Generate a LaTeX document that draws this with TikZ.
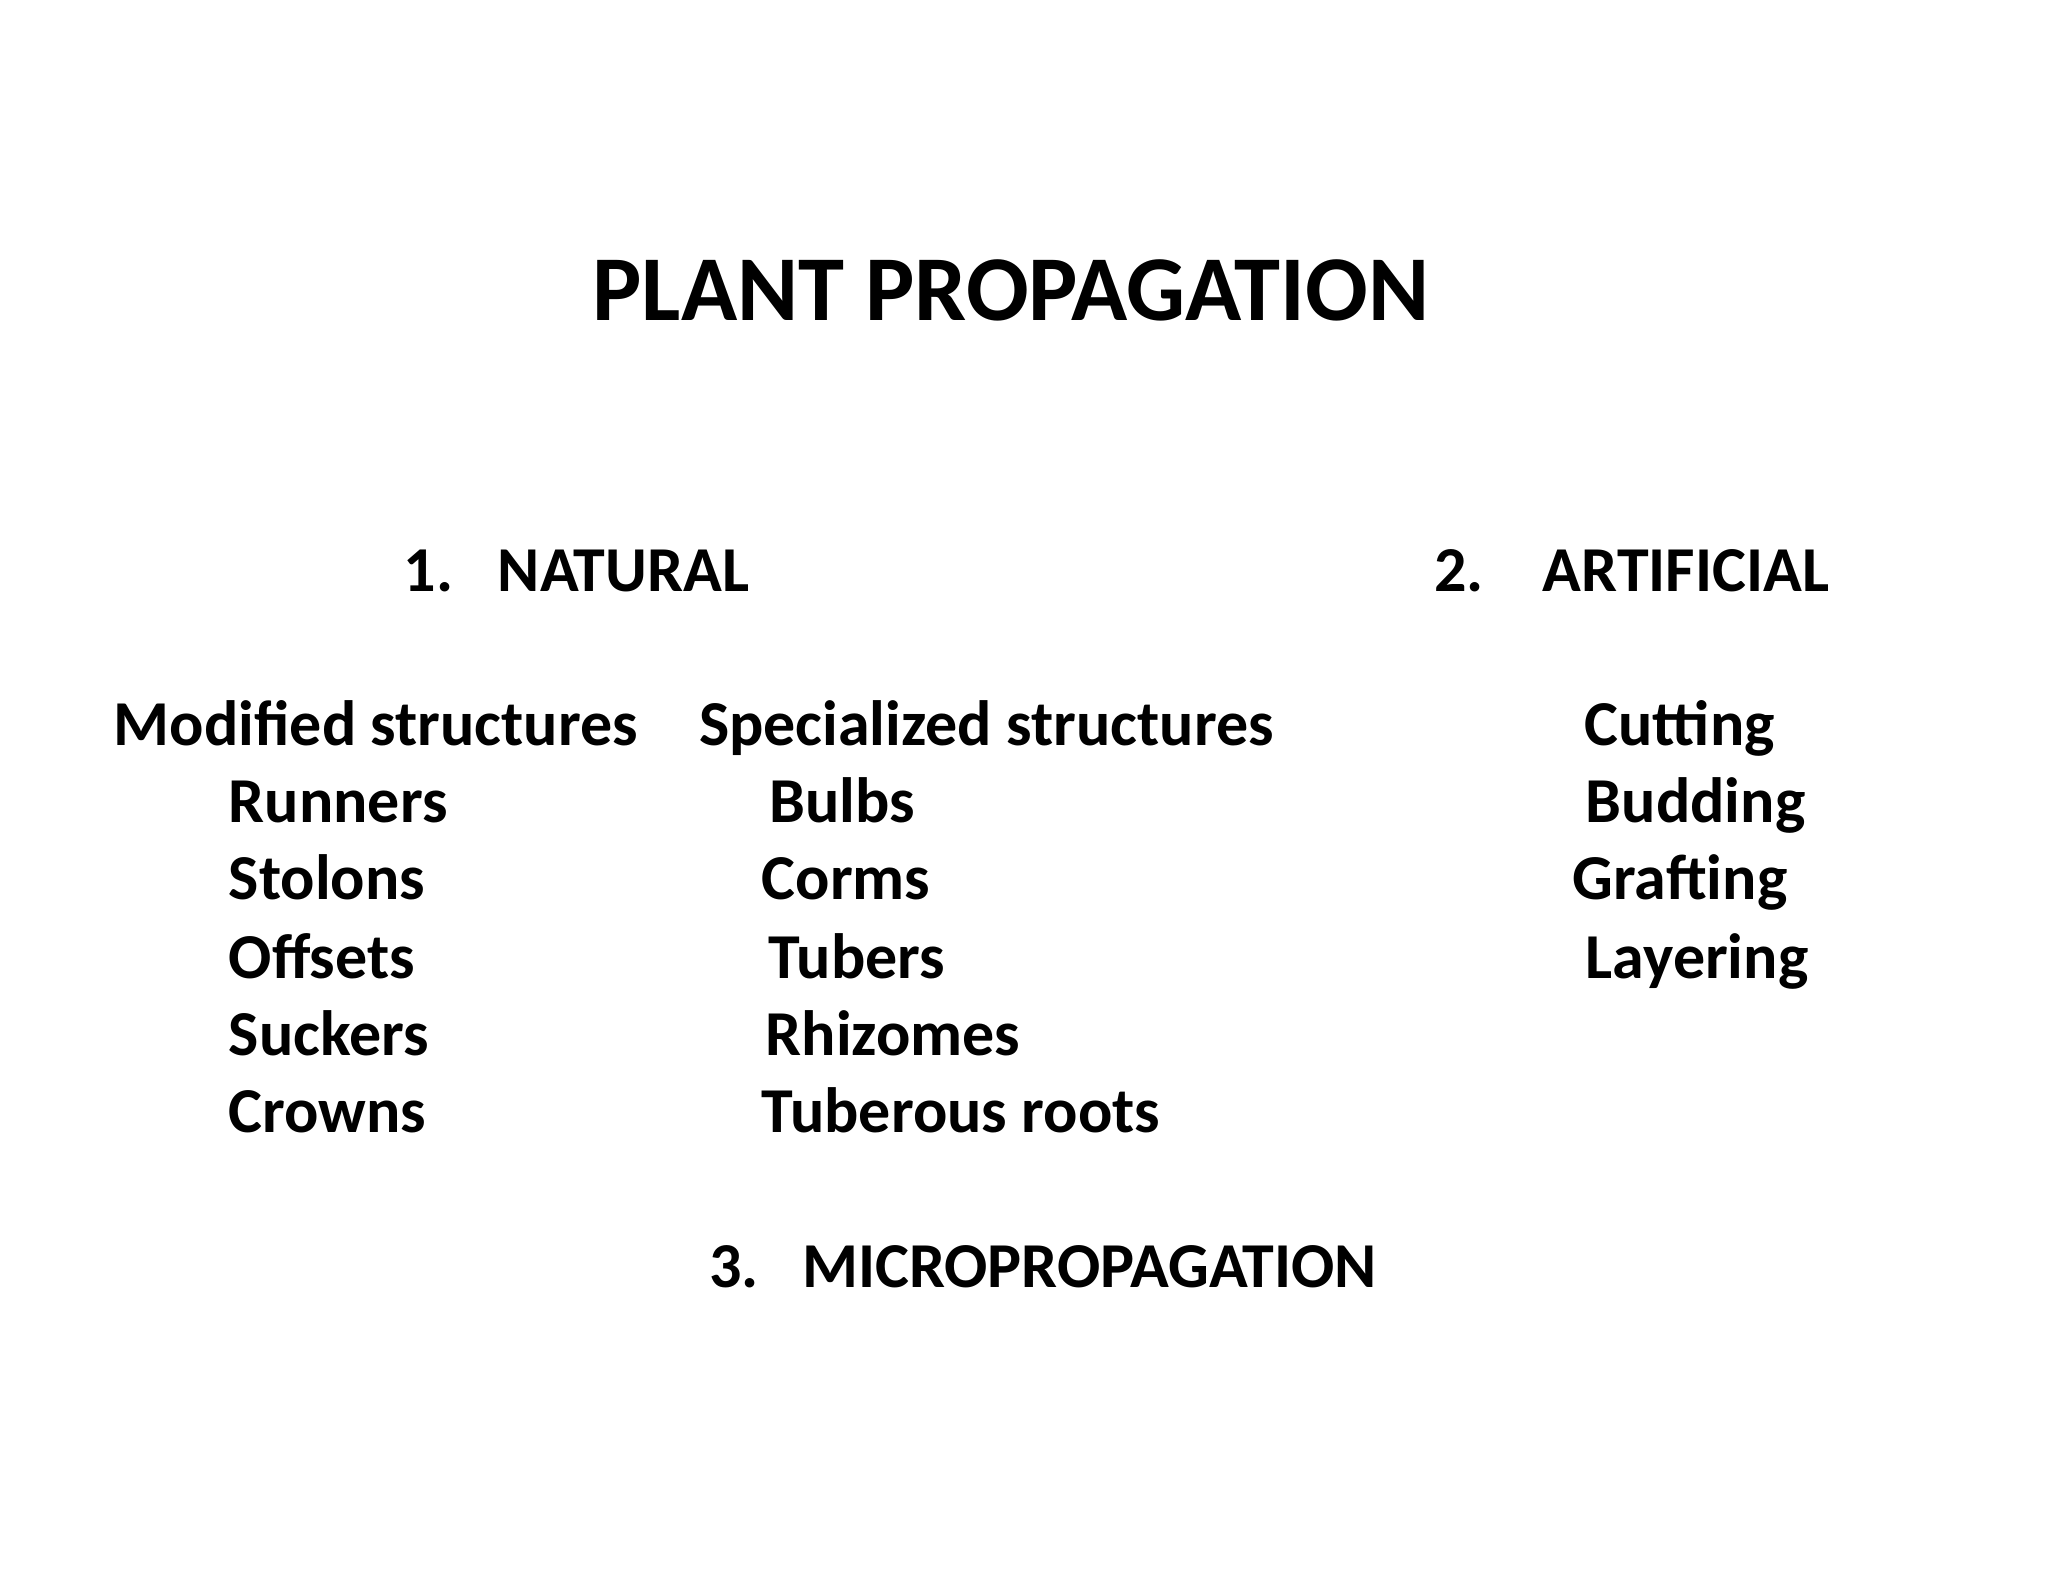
\documentclass[tikz,border=0pt]{standalone}
\usepackage{fontspec}
\setmainfont{Carlito}
\begin{document}
\begin{tikzpicture}[x=1pt,y=-1pt,
  it/.style={anchor=base west,inner sep=0pt,font=\bfseries\fontsize{49}{60}\selectfont},
  ttl/.style={anchor=base,inner sep=0pt,font=\bfseries\fontsize{71}{85}\selectfont}]
\useasboundingbox[fill=white] (0,0) rectangle (1568,1211);
\node[ttl] (title) at (774,245) {PLANT PROPAGATION};
\node[it] (n1) at (309,453) {1.};
\node[it] (nat) at (381,453) {NATURAL};
\node[it] (n2) at (1098,453) {2.};
\node[it] (art) at (1181,453) {ARTIFICIAL};
\node[it] (mod) at (87,571) {Modified structures};
\node[it] (run) at (175,630) {Runners};
\node[it] (sto) at (175,689) {Stolons};
\node[it] (off) at (175,749) {Offsets};
\node[it] (suc) at (175,808) {Suckers};
\node[it] (cro) at (175,867) {Crowns};
\node[it] (spe) at (535,571) {Specialized structures};
\node[it] (bul) at (589,630) {Bulbs};
\node[it] (cor) at (583,689) {Corms};
\node[it] (tub) at (588,749) {Tubers};
\node[it] (rhi) at (586,808) {Rhizomes};
\node[it] (tro) at (583,867) {Tuberous roots};
\node[it] (cut) at (1213,571) {Cutting};
\node[it] (bud) at (1214,630) {Budding};
\node[it] (gra) at (1204,689) {Grafting};
\node[it] (lay) at (1214,749) {Layering};
\node[it] (n3) at (543,986) {3.};
\node[it] (mic) at (614,986) {MICROPROPAGATION};
\end{tikzpicture}
\end{document}
